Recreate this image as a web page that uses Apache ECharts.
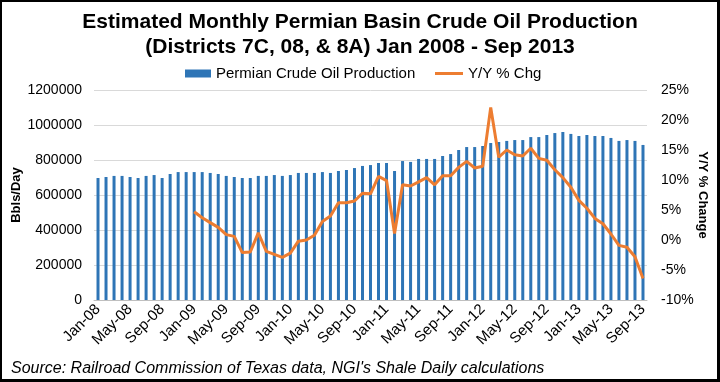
<!DOCTYPE html>
<html>
<head>
<meta charset="utf-8">
<script src="https://cdn.jsdelivr.net/npm/echarts@6/dist/echarts.min.js"></script>
<style>
html,body{margin:0;padding:0;background:#fff;}
#chart{width:720px;height:382px;}
</style>
</head>
<body>
<div id="chart"></div>
<script>
const months = [
 'Jan-08','Feb-08','Mar-08','Apr-08','May-08','Jun-08','Jul-08','Aug-08','Sep-08','Oct-08','Nov-08','Dec-08',
 'Jan-09','Feb-09','Mar-09','Apr-09','May-09','Jun-09','Jul-09','Aug-09','Sep-09','Oct-09','Nov-09','Dec-09',
 'Jan-10','Feb-10','Mar-10','Apr-10','May-10','Jun-10','Jul-10','Aug-10','Sep-10','Oct-10','Nov-10','Dec-10',
 'Jan-11','Feb-11','Mar-11','Apr-11','May-11','Jun-11','Jul-11','Aug-11','Sep-11','Oct-11','Nov-11','Dec-11',
 'Jan-12','Feb-12','Mar-12','Apr-12','May-12','Jun-12','Jul-12','Aug-12','Sep-12','Oct-12','Nov-12','Dec-12',
 'Jan-13','Feb-13','Mar-13','Apr-13','May-13','Jun-13','Jul-13','Aug-13','Sep-13'
];
const production = [
 697000,703000,709000,709000,703000,697000,709000,714000,697000,720000,731000,731000,
 731000,731000,726000,720000,709000,703000,697000,697000,709000,709000,714000,709000,
 714000,726000,726000,726000,731000,726000,737000,743000,754000,766000,771000,783000,
 783000,737000,794000,789000,806000,806000,806000,823000,834000,857000,874000,874000,
 880000,897000,903000,909000,914000,914000,931000,931000,943000,954000,960000,949000,
 937000,943000,937000,937000,926000,909000,914000,909000,886000
];
const yoyChange = [
 null,null,null,null,null,null,null,null,null,null,null,null,
 4.7,3.7,2.9,2.1,0.9,0.6,-2.1,-2.0,1.2,-1.9,-2.4,-2.9,
 -2.2,-0.2,0.0,0.8,3.1,4.0,6.2,6.2,6.5,7.8,7.7,10.6,
 9.9,1.1,9.2,9.0,9.7,10.4,9.2,10.7,10.7,12.1,13.1,12.0,
 12.3,22.1,13.8,15.0,14.2,14.0,15.3,13.6,13.3,11.7,10.4,8.8,
 6.6,5.3,3.6,2.7,1.0,-0.9,-1.2,-2.8,-6.4
];
const titleText = 'Estimated Monthly Permian Basin Crude Oil Production\n(Districts 7C, 08, & 8A) Jan 2008 - Sep 2013';
const sourceText = "Source: Railroad Commission of Texas data, NGI's Shale Daily calculations";

const chart = echarts.init(document.getElementById('chart'), null, {renderer:'canvas'});
const FONT = 'Liberation Sans, Arial, sans-serif';
chart.setOption({
  animation:false,
  backgroundColor:'#fff',
  textStyle:{fontFamily:FONT},
  title:{
    text:titleText, left:'center', top:5,
    textStyle:{fontFamily:FONT, fontSize:21, fontWeight:'bold', color:'#000', lineHeight:25}
  },
  legend:[
    {
      left:185, top:66, padding:0, itemWidth:26, itemHeight:8, icon:'rect',
      textStyle:{fontFamily:FONT, fontSize:15, color:'#000'},
      data:['Permian Crude Oil Production']
    },
    {
      left:435, top:66, padding:0, itemWidth:28, itemHeight:3, icon:'rect',
      textStyle:{fontFamily:FONT, fontSize:15, color:'#000'},
      data:['Y/Y % Chg']
    }
  ],
  grid:{left:94, right:73, top:90, bottom:82, containLabel:false, outerBoundsMode:'none'},
  xAxis:{
    type:'category', data:months, boundaryGap:true,
    axisLine:{lineStyle:{color:'#bfbfbf', width:1}},
    axisTick:{show:false},
    axisLabel:{interval:3, rotate:45, fontFamily:FONT, fontSize:15, color:'#000', margin:7}
  },
  yAxis:[
    {
      type:'value', min:0, max:1200000, interval:200000,
      name:'Bbls/Day', nameLocation:'middle', nameGap:71, nameRotate:90, nameMoveOverlap:false,
      nameTextStyle:{fontFamily:FONT, fontSize:13, fontWeight:'bold', color:'#000'},
      axisLine:{show:false}, axisTick:{show:false},
      axisLabel:{fontFamily:FONT, fontSize:14, color:'#000', margin:12, formatter:function(v){return String(v);}},
      splitLine:{lineStyle:{color:'#d9d9d9', width:1}}
    },
    {
      type:'value', min:-10, max:25, interval:5, position:'right',
      name:'Y/Y % Change', nameLocation:'middle', nameGap:49, nameRotate:-90, nameMoveOverlap:false,
      nameTextStyle:{fontFamily:FONT, fontSize:13, fontWeight:'bold', color:'#000'},
      axisLine:{show:false}, axisTick:{show:false},
      axisLabel:{fontFamily:FONT, fontSize:14, color:'#000', margin:14, formatter:'{value}%'},
      splitLine:{show:false}
    }
  ],
  series:[
    {
      name:'Permian Crude Oil Production', type:'bar', data:production, yAxisIndex:0,
      barWidth:3, itemStyle:{color:'#2E75B6'}
    },
    {
      name:'Y/Y % Chg', type:'line', data:yoyChange, yAxisIndex:1,
      symbol:'none', lineStyle:{color:'#ED7D31', width:3}, itemStyle:{color:'#ED7D31'}
    }
  ],
  graphic:[
    {type:'text', left:11, top:361, style:{text:sourceText, font:'italic 16px ' + FONT, fill:'#000'}},
    {type:'rect', shape:{x:0.5, y:0.5, width:718, height:380}, style:{fill:'none', stroke:'#000', lineWidth:3}, silent:true}
  ]
});
</script>
</body>
</html>
